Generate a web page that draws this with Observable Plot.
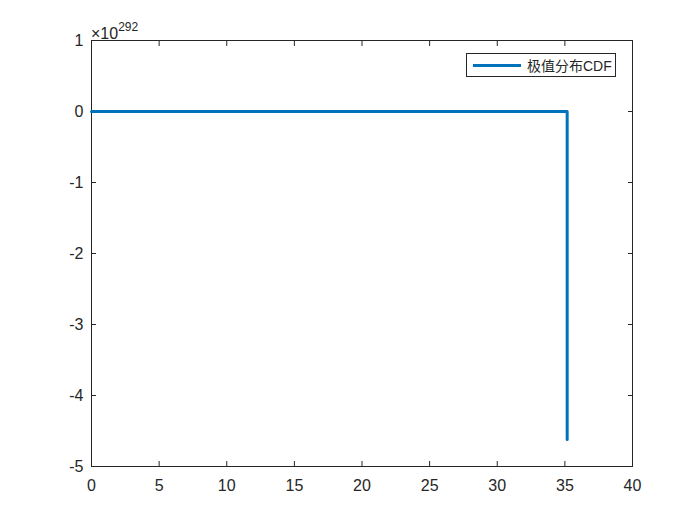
<!DOCTYPE html>
<html><head><meta charset="utf-8">
<script src="https://cdn.jsdelivr.net/npm/d3@7"></script>
<script src="https://cdn.jsdelivr.net/npm/@observablehq/plot@0.6"></script>
<style>
body{margin:0;background:#fff;font-family:"Liberation Sans",Arial,sans-serif;}
#wrap{position:relative;width:700px;height:525px;}
#legend{position:absolute;left:466px;top:53px;width:150px;height:24px;border:1px solid #262626;background:#fff;box-sizing:border-box;font-family:"Liberation Sans","Noto Sans CJK SC",sans-serif;font-size:14px;color:#262626;display:flex;align-items:center;}
#legend .sw{width:48px;height:3px;background:#0072BD;margin-left:6px;margin-right:6px;}
#exp{position:absolute;left:91px;top:19px;font-size:16px;color:#262626;line-height:20px;}
#exp sup{font-size:12px;position:relative;top:-2px;}
</style></head>
<body><div id="wrap"></div>
<script>
const xs = [0, 35.1, 35.17, 35.17];
const ys = [0, 0, 0, -4.62];
const xTicks = [0, 5, 10, 15, 20, 25, 30, 35, 40];
const yTicks = [1, 0, -1, -2, -3, -4, -5];
const seriesName = "极值分布CDF";
const exponent = "292";

const data = xs.map((x, i) => ({x, y: ys[i]}));
const col = "#262626";
const chart = Plot.plot({
  width: 700, height: 525,
  marginLeft: 91, marginRight: 68, marginTop: 40, marginBottom: 59,
  style: {fontFamily: "Liberation Sans, Arial, sans-serif", fontSize: "16px", color: col, background: "white"},
  x: {domain: [0, 40]},
  y: {domain: [-5, 1]},
  marks: [
    Plot.frame({stroke: col, strokeWidth: 1}),
    Plot.axisX({ticks: xTicks, anchor: "bottom", tickSize: 0, tickPadding: 13, label: null, fontSize: 16}),
    Plot.axisX({ticks: xTicks, anchor: "bottom", tickSize: -5, text: null, label: null}),
    Plot.axisX({ticks: xTicks, anchor: "top", tickSize: -5, text: null, label: null}),
    Plot.axisY({ticks: yTicks, anchor: "left", tickSize: 0, tickPadding: 8, label: null, fontSize: 16, tickFormat: d => d === 0 ? "0" : String(d).replace("−","-")}),
    Plot.axisY({ticks: yTicks, anchor: "left", tickSize: -5, text: null, label: null}),
    Plot.axisY({ticks: yTicks, anchor: "right", tickSize: -5, text: null, label: null}),
    Plot.line(data, {x: "x", y: "y", stroke: "#0072BD", strokeWidth: 3})
  ]
});
const wrap = document.getElementById("wrap");
wrap.appendChild(chart);
const exp = document.createElement("div");
exp.id = "exp";
exp.innerHTML = "×10<sup>" + exponent + "</sup>";
wrap.appendChild(exp);
const leg = document.createElement("div");
leg.id = "legend";
leg.innerHTML = '<div class="sw"></div><span>' + seriesName + '</span>';
wrap.appendChild(leg);
</script>
</body></html>
